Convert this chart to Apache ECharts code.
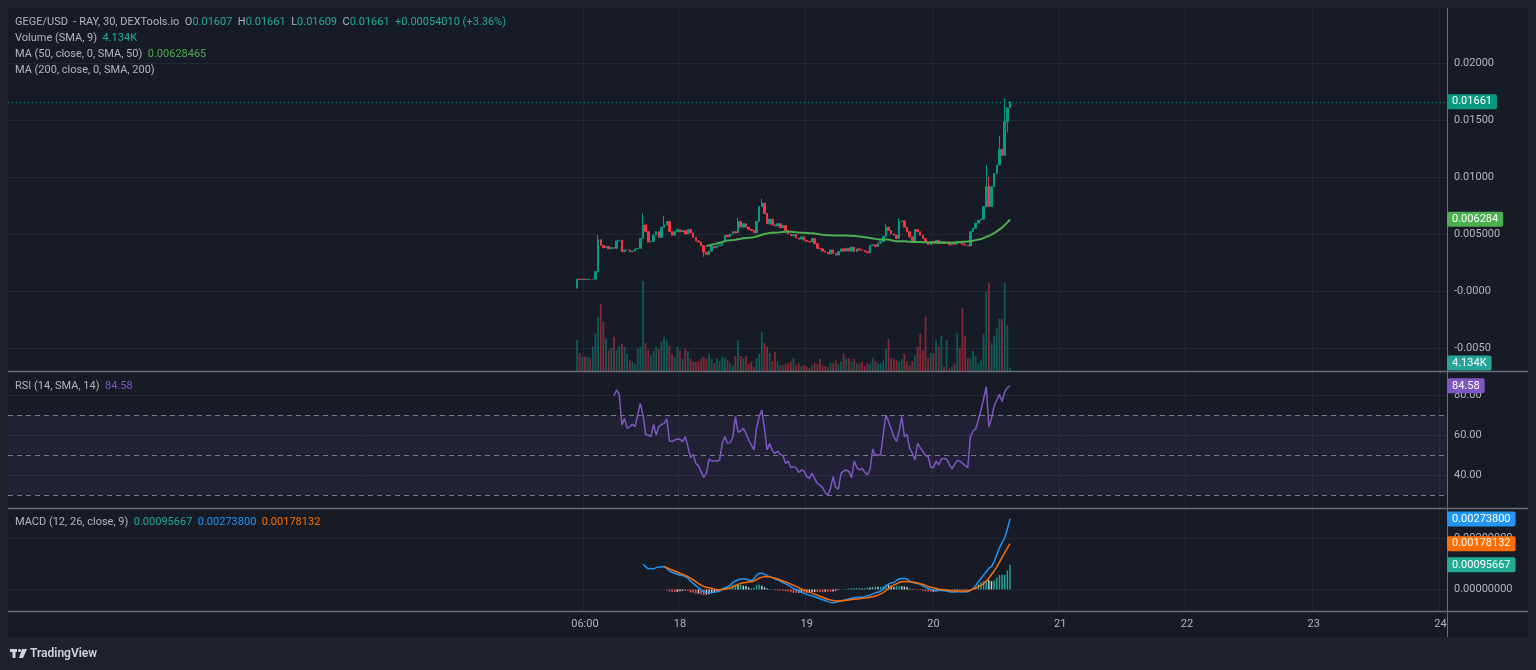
<!DOCTYPE html>
<html>
<head>
<meta charset="utf-8">
<title>GEGE/USD</title>
<script src="https://cdn.jsdelivr.net/npm/echarts@6/dist/echarts.min.js"></script>
<style>
  html, body { margin: 0; padding: 0; background: #1e222d; }
  #panel { position: absolute; left: 8px; top: 8px; width: 1520px; height: 629px; background: #171b26; }
  #chart { position: absolute; left: 0; top: 0; width: 1536px; height: 670px; }
</style>
</head>
<body>
<div id="panel"></div>
<div id="chart"></div>
<script>
// ---------- time axis (30 min slots) ----------
const SLOT_COUNT = 545;
const FIRST_SLOT = 215;            // 17th 04:30
const tickSlots = [218, 254, 302, 350, 398, 446, 494, 542];
const tickLabels = ['06:00', '18', '19', '20', '21', '22', '23', '24'];

// ---------- price (in 0.001 units) ----------
const firstOpen = 0.25;
const closes = [
  1.05, 1.02, 1.05, 1.00, 1.04, 1.02, 1.05, 1.70, 4.50, 4.00,
  3.80, 3.90, 3.70, 3.80, 3.75, 4.40, 4.45, 3.45, 3.60, 3.60,
  3.45, 3.50, 3.70, 3.75, 4.60, 5.80, 5.20, 4.30, 4.35, 4.90,
  5.20, 4.70, 5.60, 5.80, 6.10, 5.20, 4.90, 5.20, 5.40, 5.20,
  5.30, 5.00, 5.40, 5.10, 4.70, 4.40, 4.30, 4.00, 3.40, 3.20,
  3.50, 3.90, 3.80, 3.95, 4.00, 4.30, 4.90, 4.75, 5.00, 5.20,
  5.10, 6.10, 5.60, 5.90, 5.60, 5.40, 5.30, 5.10, 6.10, 7.40,
  7.70, 6.80, 5.90, 6.30, 5.80, 5.70, 5.90, 5.55, 5.75, 5.30,
  5.00, 4.85, 4.95, 4.65, 4.55, 4.75, 4.45, 4.35, 4.30, 4.60,
  4.15, 3.75, 3.70, 3.50, 3.40, 3.25, 3.60, 3.30, 3.15, 3.45,
  3.70, 3.50, 3.75, 3.50, 3.85, 3.45, 3.70, 3.60, 3.55, 3.45,
  3.35, 4.00, 4.05, 3.90, 4.20, 4.35, 4.80, 5.60, 5.30, 5.00,
  4.90, 4.60, 6.10, 6.15, 5.60, 5.20, 4.75, 4.35, 5.40, 5.20,
  4.90, 4.60, 4.30, 4.05, 4.35, 4.20, 4.45, 4.20, 4.35, 4.20,
  4.30, 4.05, 4.20, 4.10, 4.35, 4.20, 4.10, 4.00, 3.95, 5.20,
  5.50, 5.96, 6.20, 6.30, 7.40, 9.15, 7.40, 9.15, 10.30, 11.05,
  12.43, 11.90, 14.85, 16.07, 16.61
];
const wickHigh = { 8: 4.9, 25: 6.8, 33: 6.6, 61: 6.4, 70: 8.1, 117: 5.9, 122: 6.4, 155: 11.05, 156: 10.0, 160: 13.6, 162: 16.9 };
const wickLow = { 48: 3.0, 163: 13.9 };

// volume, thousands
const volumes = [
  43, 25, 20, 20, 20, 18, 34, 53, 76, 94,
  69, 46, 29, 32, 48, 29, 35, 38, 34, 24,
  15, 13, 10, 31, 34, 126, 39, 29, 22, 28,
  34, 31, 41, 48, 43, 35, 24, 20, 34, 28,
  17, 31, 28, 17, 13, 13, 14, 17, 20, 17,
  24, 17, 11, 18, 14, 20, 18, 15, 11, 8,
  21, 43, 21, 17, 21, 10, 13, 6, 18, 24,
  55, 39, 34, 25, 14, 27, 13, 8, 8, 10,
  11, 14, 18, 8, 11, 7, 8, 6, 4, 8,
  11, 10, 17, 8, 7, 6, 11, 11, 15, 10,
  13, 24, 17, 18, 13, 17, 11, 10, 13, 7,
  11, 10, 18, 14, 11, 11, 15, 31, 45, 18,
  17, 15, 13, 17, 24, 13, 8, 14, 22, 34,
  52, 29, 76, 18, 25, 25, 43, 34, 49, 6,
  43, 3, 6, 10, 53, 32, 88, 49, 18, 18,
  28, 21, 11, 15, 52, 111, 123, 39, 49, 60,
  73, 73, 123, 64, 4.134
];

// RSI(14) from candle 14
const RSI_START = 14;
const rsi = [
  79.7, 82.5, 80.3, 65, 68.3, 63.3, 64.2, 65.3, 64.2, 70,
  75.8, 70, 60.3, 60, 59.2, 65.3, 60, 64.2, 65.3, 65.8,
  68, 57, 56.7, 57.5, 58, 57.8, 56.7, 59.2, 54.2, 48.7,
  50.3, 45.8, 44.7, 41.7, 38.8, 40.8, 48, 47, 47, 47,
  47.5, 55.8, 59.2, 55.8, 56.2, 58.7, 69.2, 61.3, 62, 63.3,
  60.8, 57.5, 55, 52.5, 63.3, 69.2, 72.5, 63.3, 52.5, 55.8,
  52, 50.8, 52, 50.3, 49.7, 45.8, 47, 43.7, 44.2, 43.7,
  41.3, 42.5, 42, 39.2, 38.3, 40.8, 38.3, 35.8, 35, 33.7,
  31.3, 29.7, 33.3, 39.2, 33.7, 33, 40.8, 42, 42.5, 41.7,
  38.7, 47, 43.7, 42.5, 43.3, 41.3, 40, 43, 53, 49.7,
  50, 50.3, 60.3, 70, 66.7, 63, 59.2, 56.7, 62, 69.2,
  59.2, 60.3, 53.3, 50.8, 47.5, 55.8, 53.7, 51.7, 49.7, 49.2,
  43.7, 43.7, 47, 45, 48, 48.3, 48, 45.3, 43, 45.3,
  47.3, 47, 45.8, 44.7, 43.7, 59.2, 62, 63, 67.5, 72.5,
  78, 84.2, 64.2, 68.3, 74.7, 77.5, 80.3, 76.7, 81.7, 83.7, 84.58
];

// MACD line and signal, in 0.0001 units
const MACD_START = 25;
const macd = [
  9.8, 8.9, 8.0, 8.2, 8.0, 8.5, 8.7, 8.7, 8.9, 8.2,
  7.2, 6.7, 6.3, 5.9, 5.6, 5.4, 5.0, 4.4, 3.3, 2.4,
  1.5, 0.7, -0.2, -0.9, -1.1, -1.1, -1.1, -1.1, -0.9, -0.6,
  0.1, 0.7, 1.0, 1.7, 2.7, 3.3, 3.8, 4.1, 4.1, 4.1,
  3.7, 3.3, 4.1, 5.6, 6.3, 6.3, 5.9, 5.4, 5.0, 4.6,
  4.1, 3.7, 3.3, 2.7, 2.2, 1.7, 1.0, 0.4, -0.1, -0.6,
  -1.1, -1.5, -1.9, -2.2, -2.4, -2.8, -3.2, -3.6, -4.0, -4.3,
  -4.7, -5.0, -5.1, -5.0, -4.7, -4.5, -4.2, -4.0, -3.7, -3.4,
  -3.2, -3.1, -3.0, -3.0, -2.8, -2.4, -2.2, -1.7, -1.3, -1.1,
  -0.6, 0.1, 1.4, 2.1, 2.6, 2.7, 3.5, 4.1, 4.3, 4.3,
  4.1, 3.3, 2.7, 2.5, 2.3, 2.0, 1.4, 0.9, 0.4, 0.0,
  -0.2, -0.4, -0.4, -0.4, -0.5, -0.6, -0.9, -1.0, -1.0, -0.9,
  -0.9, -1.0, -0.9, -0.9, -0.4, 0.4, 1.5, 3.0, 4.3, 5.6,
  7.0, 8.2, 9.0, 10.8, 13.5, 16.2, 18.2, 20.0, 23.5, 27.38
];
const SIGNAL_START = 33;
const signal = [
  8.9, 8.5, 8.0, 7.6, 7.2, 6.8, 6.3, 5.9, 5.5, 5.0,
  4.4, 3.7, 3.1, 2.3, 1.7, 1.2, 0.9, 0.7, 0.4, 0.1,
  -0.1, -0.1, 0.0, 0.1, 0.4, 0.7, 1.0, 1.4, 2.0, 2.3,
  2.6, 2.7, 2.9, 3.0, 3.3, 3.8, 4.4, 4.8, 5.0, 5.0,
  4.9, 4.6, 4.4, 4.1, 3.7, 3.3, 2.9, 2.5, 2.1, 1.7,
  1.2, 0.7, 0.1, -0.2, -0.6, -1.0, -1.4, -1.8, -2.2, -2.6,
  -3.0, -3.4, -3.8, -4.1, -4.3, -4.5, -4.5, -4.5, -4.3, -4.2,
  -4.1, -3.9, -3.8, -3.7, -3.6, -3.4, -3.3, -3.2, -3.0, -2.8,
  -2.5, -2.2, -1.7, -1.2, -0.4, 0.4, 1.0, 1.7, 2.2, 2.7,
  3.0, 3.1, 3.1, 3.0, 2.9, 2.7, 2.5, 2.2, 2.0, 1.6,
  1.2, 0.9, 0.7, 0.4, 0.1, 0.0, -0.1, -0.2, -0.4, -0.5,
  -0.6, -0.6, -0.6, -0.6, -0.6, -0.5, -0.3, 0.2, 0.6, 1.0,
  1.6, 2.4, 3.3, 4.5, 5.8, 7.2, 8.8, 10.6, 12.5, 14.3,
  16.1, 17.81
];

// axis tick labels
const priceTicks = [-0.005, 0, 0.005, 0.01, 0.015, 0.02];
const priceTickLabels = ['-0.0050', '-0.0000', '0.005000', '0.01000', '0.01500', '0.02000'];
const rsiTicks = [40, 60, 80];
const rsiTickLabels = ['40.00', '60.00', '80.00'];
const macdTicks = [0, 0.002];
const macdTickLabels = ['0.00000000', '0.00200000'];

// last value tags
const lastClose = 0.01661, lastMA = 0.006284, lastRsi = 84.58;
const lastMacd = 0.002738, lastSignal = 0.00178132, lastHist = 0.00095667;

const UP = '#089981', DOWN = '#f23645';
const TXT = '#b2b5be', GRID = '#242833', SEP = '#6a6d78';
const FONT = 'Roboto, "Noto Sans", sans-serif';
const L = 8, R = 89, AXIS_X = 1447;

// ---------- build series data ----------
const candles = closes.map((c, i) => {
  const o = i === 0 ? firstOpen : closes[i - 1];
  const hi = wickHigh[i] !== undefined ? wickHigh[i] : Math.max(o, c);
  const lo = wickLow[i] !== undefined ? wickLow[i] : Math.min(o, c);
  return [FIRST_SLOT + i, o / 1000, c / 1000, lo / 1000, hi / 1000];
});

const volData = volumes.map((v, i) => {
  const up = candles[i][2] >= candles[i][1];
  return { value: [FIRST_SLOT + i, v], itemStyle: { color: up ? 'rgba(8,153,129,0.5)' : 'rgba(242,54,69,0.5)' } };
});

const maData = [];
for (let i = 49; i < closes.length; i++) {
  let s = 0;
  for (let k = i - 49; k <= i; k++) s += closes[k];
  maData.push([FIRST_SLOT + i, s / 50 / 1000]);
}

const rsiData = rsi.map((v, i) => [FIRST_SLOT + RSI_START + i, v]);
const macdData = macd.map((v, i) => [FIRST_SLOT + MACD_START + i, v / 10000]);
const signalData = signal.map((v, i) => [FIRST_SLOT + SIGNAL_START + i, v / 10000]);

const histData = [];
let prevH = null;
signal.forEach((s, i) => {
  const m = macd[SIGNAL_START - MACD_START + i];
  const h = m - s;
  let color;
  if (h >= 0) color = (prevH === null || h >= prevH) ? '#26a69a' : '#b2dfdb';
  else color = (prevH === null || h <= prevH) ? '#ff5252' : '#ffcdd2';
  prevH = h;
  histData.push({ value: [FIRST_SLOT + SIGNAL_START + i, h / 10000], itemStyle: { color } });
});

// ---------- axes ----------
const slots = Array.from({ length: SLOT_COUNT }, (_, i) => i);

function xAxisFor(gi, main) {
  return {
    type: 'category', gridIndex: gi, data: slots, boundaryGap: true,
    axisLine: { show: false }, axisTick: { show: false },
    axisLabel: main ? {
      interval: (i) => tickSlots.includes(i),
      formatter: (v) => tickLabels[tickSlots.indexOf(Number(v))],
      color: TXT, fontSize: 11, fontFamily: FONT, margin: 8
    } : { show: false },
    splitLine: main ? { show: true, interval: (i) => tickSlots.includes(i), lineStyle: { color: GRID, width: 1 } } : { show: false }
  };
}

function labelFrom(ticks, labels) {
  return (v) => {
    const k = ticks.findIndex(t => Math.abs(t - v) < 1e-9);
    return k >= 0 ? labels[k] : '';
  };
}

function yAxisFor(gi, min, max, interval, ticks, labels) {
  return {
    type: 'value', gridIndex: gi, position: 'right', min, max, interval,
    axisLine: { show: false }, axisTick: { show: false },
    axisLabel: { color: TXT, fontSize: 11, fontFamily: FONT, margin: 7, formatter: labelFrom(ticks, labels) },
    splitLine: { lineStyle: { color: GRID, width: 1 } }
  };
}

const chart = echarts.init(document.getElementById('chart'));

chart.setOption({
  backgroundColor: 'transparent',
  animation: false,
  grid: [
    { left: L, right: R, top: 8, height: 603 },
    { left: L, right: R, top: 8, height: 363 },
    { left: L, right: R, top: 63, height: 285 },
    { left: L, right: R, top: 395, height: 80 },
    { left: L, right: R, top: 538, height: 51.5 }
  ],
  xAxis: [xAxisFor(0, true), xAxisFor(1, false), xAxisFor(2, false), xAxisFor(3, false), xAxisFor(4, false)],
  yAxis: [
    { type: 'value', gridIndex: 0, min: 0, max: 1, show: false },
    { type: 'value', gridIndex: 1, min: 0, max: 508, show: false },
    yAxisFor(2, -0.005, 0.02, 0.005, priceTicks, priceTickLabels),
    yAxisFor(3, 40, 80, 20, rsiTicks, rsiTickLabels),
    yAxisFor(4, 0, 0.002, 0.002, macdTicks, macdTickLabels)
  ],
  series: [
    {
      name: 'Volume', type: 'bar', xAxisIndex: 1, yAxisIndex: 1,
      data: volData, barWidth: 1.8, silent: true
    },
    {
      name: 'GEGE/USD', type: 'candlestick', xAxisIndex: 2, yAxisIndex: 2,
      data: candles, encode: { x: 0, y: [1, 2, 3, 4] }, barWidth: 2,
      itemStyle: { color: UP, color0: DOWN, borderColor: UP, borderColor0: DOWN, borderWidth: 1 }
    },
    {
      name: 'MA 50', type: 'line', xAxisIndex: 2, yAxisIndex: 2, data: maData,
      showSymbol: false, lineStyle: { color: '#4caf50', width: 2 }, silent: true
    },
    {
      name: 'RSI', type: 'line', xAxisIndex: 3, yAxisIndex: 3, data: rsiData, clip: false,
      showSymbol: false, lineStyle: { color: '#7e57c2', width: 1.5 }, silent: true, z: 5
    },
    {
      name: 'Histogram', type: 'bar', xAxisIndex: 4, yAxisIndex: 4, data: histData, clip: false,
      barWidth: 1.4, silent: true
    },
    {
      name: 'MACD', type: 'line', xAxisIndex: 4, yAxisIndex: 4, data: macdData, clip: false,
      showSymbol: false, lineStyle: { color: '#2196f3', width: 1.5 }, silent: true
    },
    {
      name: 'Signal', type: 'line', xAxisIndex: 4, yAxisIndex: 4, data: signalData, clip: false,
      showSymbol: false, lineStyle: { color: '#ff6d00', width: 1.5 }, silent: true
    }
  ]
});

// ---------- overlays positioned through the axes ----------
const py = (axis, v) => chart.convertToPixel({ yAxisIndex: axis }, v);

function rich(parts) {
  return parts.map(p => '{' + p[1] + '|' + p[0] + '}').join('');
}
const richStyles = {
  g: { fill: TXT, fontSize: 11, fontFamily: FONT },
  t: { fill: '#22ab94', fontSize: 11, fontFamily: FONT },
  m: { fill: '#4caf50', fontSize: 11, fontFamily: FONT },
  p: { fill: '#7e57c2', fontSize: 11, fontFamily: FONT },
  b: { fill: '#2196f3', fontSize: 11, fontFamily: FONT },
  o: { fill: '#ff6d00', fontSize: 11, fontFamily: FONT }
};
function legend(y, parts) {
  return { type: 'text', x: 15, y, z: 50, style: { text: rich(parts), rich: richStyles, verticalAlign: 'middle' } };
}
function tag(y, text, bg) {
  return {
    type: 'text', x: AXIS_X, y, z: 60,
    style: {
      text, fill: '#ffffff', fontSize: 11, fontFamily: FONT, verticalAlign: 'middle',
      backgroundColor: bg, padding: [2, 5, 2, 5], borderRadius: 2
    }
  };
}
function hline(y, x1, x2, color, dash, w) {
  return { type: 'line', z: 1, shape: { x1, y1: y, x2, y2: y }, style: { stroke: color, lineWidth: w || 1, lineDash: dash || null } };
}

const y70 = py(3, 70), y50 = py(3, 50), y30 = py(3, 30);
const yLast = Math.round(py(2, lastClose)) + 0.5;
const volY = Math.min(py(1, volumes[volumes.length - 1]), 371 - 8);

chart.setOption({
  graphic: [
    { type: 'rect', z: 0, shape: { x: L, y: y70, width: AXIS_X - L, height: y30 - y70 }, style: { fill: 'rgba(126,87,194,0.1)' } },
    hline(Math.round(y70) + 0.5, L, AXIS_X, '#787b86', [5, 4]),
    hline(Math.round(y50) + 0.5, L, AXIS_X, '#787b86', [5, 4]),
    hline(Math.round(y30) + 0.5, L, AXIS_X, '#787b86', [5, 4]),
    hline(yLast, L, AXIS_X, UP, [1, 3]),
    hline(371.5, L, 1528, SEP, null, 1.5),
    hline(508.5, L, 1528, SEP, null, 1.5),
    hline(611.5, L, 1528, SEP, null, 1.5),
    { type: 'line', z: 40, shape: { x1: AXIS_X + 0.5, y1: 8, x2: AXIS_X + 0.5, y2: 637 }, style: { stroke: SEP, lineWidth: 1 } },

    legend(22, [['GEGE/USD  - RAY, 30, DEXTools.io  O', 'g'], ['0.01607', 't'], ['  H', 'g'], ['0.01661', 't'],
      ['  L', 'g'], ['0.01609', 't'], ['  C', 'g'], ['0.01661', 't'], ['  +0.00054010 (+3.36%)', 't']]),
    legend(38, [['Volume (SMA, 9)  ', 'g'], ['4.134K', 't']]),
    legend(54, [['MA (50, close, 0, SMA, 50)  ', 'g'], ['0.00628465', 'm']]),
    legend(70, [['MA (200, close, 0, SMA, 200)', 'g']]),
    legend(386, [['RSI (14, SMA, 14)  ', 'g'], ['84.58', 'p']]),
    legend(522, [['MACD (12, 26, close, 9)  ', 'g'], ['0.00095667', 't'], ['  ', 'g'], ['0.00273800', 'b'], ['  ', 'g'], ['0.00178132', 'o']]),

    tag(py(2, lastClose), '0.01661', UP),
    tag(py(2, lastMA), '0.006284', '#4caf50'),
    tag(volY, '4.134K', '#26a69a'),
    tag(py(3, lastRsi), '84.58', '#7e57c2'),
    tag(py(4, lastMacd), '0.00273800', '#2196f3'),
    tag(py(4, lastSignal), '0.00178132', '#ff6d00'),
    tag(py(4, lastHist), '0.00095667', '#22ab94'),

    // TradingView mark
    { type: 'rect', z: 50, shape: { x: 10, y: 649, width: 7, height: 3 }, style: { fill: '#d1d4dc' } },
    { type: 'rect', z: 50, shape: { x: 12.5, y: 649, width: 3, height: 9 }, style: { fill: '#d1d4dc' } },
    { type: 'circle', z: 50, shape: { cx: 19.5, cy: 650.5, r: 1.6 }, style: { fill: '#d1d4dc' } },
    { type: 'polygon', z: 50, shape: { points: [[22, 649], [27, 649], [23, 658], [19, 658]] }, style: { fill: '#d1d4dc' } },
    { type: 'text', x: 30, y: 654, z: 50, style: { text: 'TradingView', fill: '#d1d4dc', fontSize: 12, fontWeight: 600, fontFamily: FONT, verticalAlign: 'middle' } }
  ]
});

window.addEventListener('resize', () => chart.resize());
</script>
</body>
</html>
